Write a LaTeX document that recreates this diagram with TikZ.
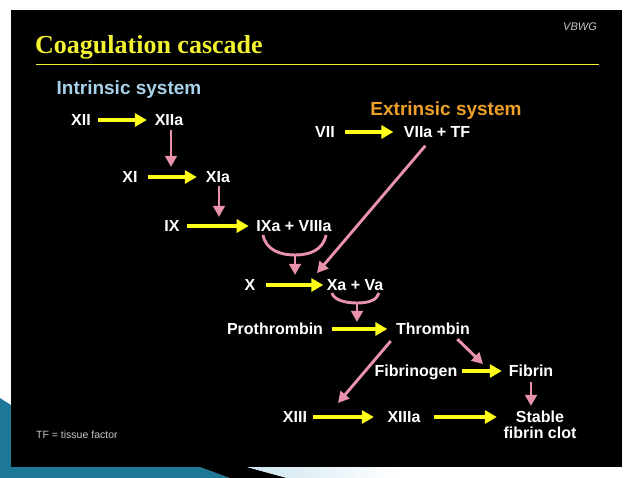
\documentclass[tikz,border=0pt]{standalone}
\usepackage{fontspec}
\setmainfont{Liberation Serif}
\setsansfont{Liberation Sans}
\usetikzlibrary{arrows.meta}
\definecolor{ylw}{HTML}{FFFF1A}
\definecolor{pnk}{HTML}{E892AC}
\definecolor{ttl}{HTML}{F2F230}
\definecolor{intr}{HTML}{A8D2EA}
\definecolor{extr}{HTML}{EEA028}
\definecolor{tealA}{HTML}{1C7896}
\definecolor{tealB}{HTML}{55BEDC}
\definecolor{lblue}{HTML}{CFE6F0}
\definecolor{note}{HTML}{C8C8C8}
\begin{document}
\begin{tikzpicture}[x=1pt,y=-1pt,
 lbl/.style={text=white,font=\sffamily\bfseries\fontsize{16}{17}\selectfont,inner sep=0pt,text height=11.5pt,text depth=0pt},
 lbltwo/.style={text=white,font=\sffamily\bfseries\fontsize{16}{16.5}\selectfont,inner sep=0pt,align=center},
 yarr/.style={draw=ylw,line width=3.4pt,-{Triangle[length=12pt,width=13pt]}},
 parr/.style={draw=pnk,line width=2.9pt,-{Triangle[length=11pt,width=11.5pt]}},
 pline/.style={draw=pnk,line width=2.9pt},
 ]
\path[use as bounding box] (0,0) rectangle (638,478);
\fill[white] (0,0) rectangle (638,478);
% bottom decoration
\shade[left color=tealA, middle color=tealB, right color=tealA]
  (0,398) .. controls (4,401) and (8,403) .. (11,405) -- (11,467) -- (200,467) -- (230,478) -- (0,478) -- cycle;
\fill[black] (200,467) -- (247,467) -- (287,478) -- (230,478) -- cycle;
\shade[left color=lblue, right color=white] (247,467) -- (400,467) -- (400,478) -- (287,478) -- cycle;
% slide
\fill[black] (11,10) rectangle (622,467);
\draw[ttl, line width=1.4pt] (36,64.5) -- (599,64.5);

\node[anchor=base west, inner sep=0pt, text=ttl, font=\bfseries\fontsize{26}{28}\selectfont] (title) at (35,54) {Coagulation cascade};
\node[inner sep=0pt, text=note, font=\sffamily\itshape\fontsize{11}{12}\selectfont] (vbwg) at (580,27) {VBWG};
\node[anchor=west, inner sep=0pt, text=note, font=\sffamily\fontsize{10.5}{12}\selectfont] (tf) at (36,435) {TF = tissue factor};
\node[inner sep=0pt, text=intr, font=\sffamily\bfseries\fontsize{19}{21}\selectfont] (intr) at (129,90) {Intrinsic system};
\node[inner sep=0pt, text=extr, font=\sffamily\bfseries\fontsize{19}{21}\selectfont] (extr) at (446,111) {Extrinsic system};

\node[lbl] (xii) at (81,120) {XII};
\node[lbl] (xiia) at (169,120) {XIIa};
\node[lbl] (xi) at (130,177) {XI};
\node[lbl] (xia) at (218,177) {XIa};
\node[lbl] (ix) at (172,226) {IX};
\node[lbl] (ixa) at (294,226) {IXa + VIIIa};
\node[lbl] (fx) at (250,285) {X};
\node[lbl] (xa) at (355,285) {Xa + Va};
\node[lbl] (pro) at (275,329) {Prothrombin};
\node[lbl] (thr) at (433,329) {Thrombin};
\node[lbl] (fgn) at (416,371) {Fibrinogen};
\node[lbl] (fbn) at (531,371) {Fibrin};
\node[lbl] (xiii) at (295,417) {XIII};
\node[lbl] (xiiia) at (404,417) {XIIIa};
\node[lbltwo, anchor=north] (clot) at (540,410.5) {Stable\\fibrin clot};
\node[lbl] (vii) at (325,132) {VII};
\node[lbl] (viia) at (437,132) {VIIa + TF};

% yellow conversions
\draw[yarr, shorten <=7pt, shorten >=7.7pt] (xii) -- (xiia);
\draw[yarr, shorten <=10.3pt, shorten >=9pt] (xi) -- (xia);
\draw[yarr, shorten <=7.3pt, shorten >=7.5pt] (ix) -- (ixa);
\draw[yarr, shorten <=10.5pt, shorten >=3.3pt] (fx) -- (xa);
\draw[yarr, shorten <=8.5pt, shorten >=8.6pt] (pro) -- (thr);
\draw[yarr, shorten <=4pt, shorten >=6.8pt] (fgn) -- (fbn);
\draw[yarr, shorten <=6pt, shorten >=13.5pt] (xiii) -- (xiiia);
\draw[yarr, shorten <=13.5pt, shorten >=6.5pt] (xiiia) -- (xiiia -| clot.west);
\draw[yarr, shorten <=10pt, shorten >=10.3pt] (vii) -- (viia);

% pink activations
\coordinate (c1) at (171,167);
\draw[parr, shorten <=4.3pt] (xiia.south -| c1) -- (c1);
\coordinate (c2) at (219,217);
\draw[parr, shorten <=3.3pt] (xia.south -| c2) -- (c2);

\coordinate (a1L) at (263,235);
\coordinate (a1B) at (295,255);
\coordinate (a1R) at (326,235);
\coordinate (c3) at (295,275);
\draw[pline] (a1L) .. controls (266,250) and (280,255) .. (a1B) .. controls (310,255) and (323,250) .. (a1R);
\draw[parr] (a1B) -- (c3);

\coordinate (c4) at (317,273);
\draw[parr, shorten <=18pt] (viia.center) -- (c4);

\coordinate (a2L) at (332,293);
\coordinate (a2B) at (357,303);
\coordinate (a2R) at (379,293);
\coordinate (c5) at (357,322);
\draw[pline] (a2L) .. controls (334,300) and (345,303) .. (a2B) .. controls (369,303) and (377,300) .. (a2R);
\draw[parr] (a2B) -- (c5);

\coordinate (c6) at (338,403);
\draw[parr, shorten <=8pt] (thr.south west) -- (c6);
\coordinate (c7) at (483,364);
\draw[parr, shorten <=6pt] ([xshift=20pt]thr.south) -- (c7);
\draw[parr, shorten <=5.3pt, shorten >=4.5pt] (fbn.south) -- (fbn.south |- clot.north);
\end{tikzpicture}
\end{document}
